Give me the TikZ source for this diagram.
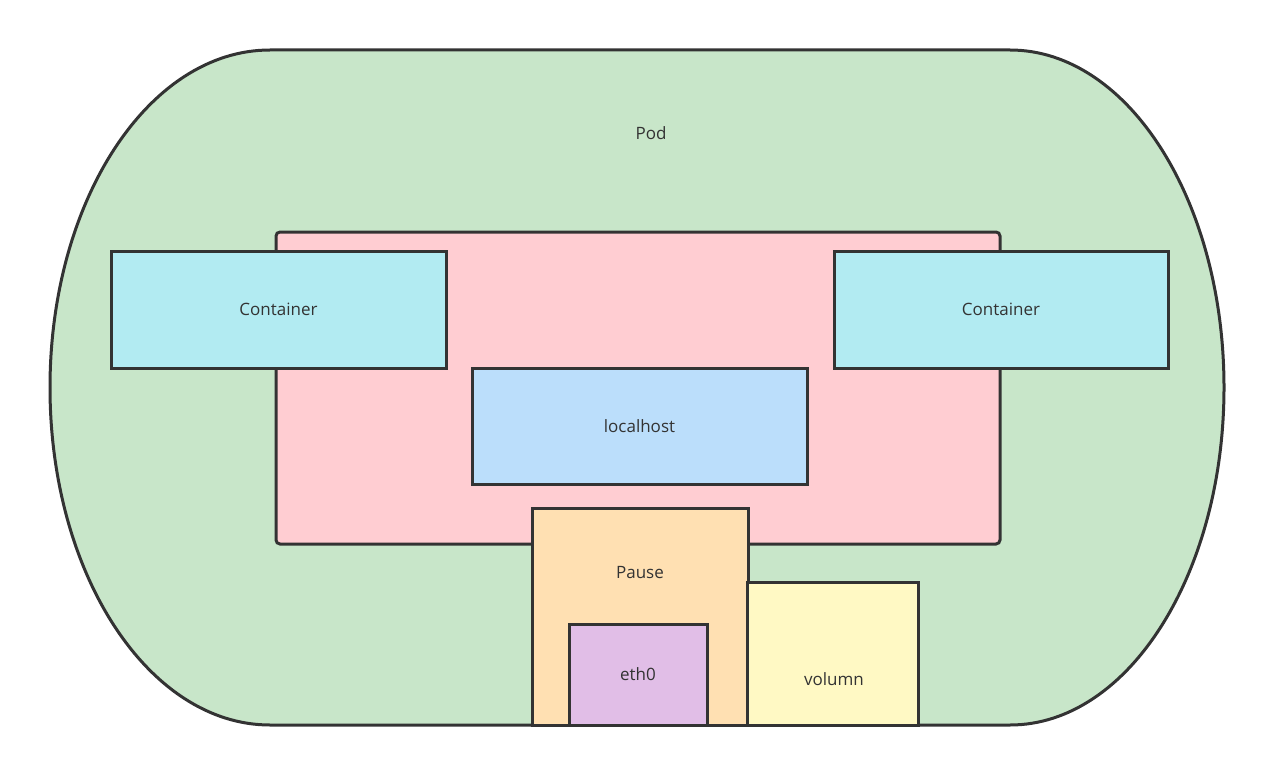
\documentclass[tikz,border=0pt]{standalone}
\usepackage{fontspec}
\setmainfont{Open Sans}
\usetikzlibrary{shapes.geometric}
\definecolor{podgreen}{HTML}{C8E6C9}
\definecolor{netpink}{HTML}{FFCDD2}
\definecolor{boxcyan}{HTML}{B2EBF2}
\definecolor{hostblue}{HTML}{BBDEFB}
\definecolor{pauseorange}{HTML}{FFE0B2}
\definecolor{ethpurple}{HTML}{E1BEE7}
\definecolor{volyellow}{HTML}{FFF9C4}
\definecolor{edgegray}{HTML}{333333}
\begin{document}
\begin{tikzpicture}[x=1pt,y=-1pt]
    \tikzstyle{box}=[draw=edgegray,line width=3pt,inner sep=0pt,text=edgegray,font=\fontsize{17}{20}\selectfont]
    \tikzstyle{lbl}=[text=edgegray,font=\fontsize{17}{20}\selectfont]

    \useasboundingbox (0,0) rectangle (1274,781);

    % pod outline
    \draw[fill=podgreen,draw=edgegray,line width=3pt]
        (270,50) -- (1010,50) arc[start angle=90,end angle=-90,x radius=214,y radius=-337.5]
        -- (270,725) arc[start angle=270,end angle=90,x radius=220,y radius=-337.5] -- cycle;
    \node[lbl] (pod) at (651,133) {Pod};

    \node[box,fill=netpink,rounded corners=4pt,minimum width=724pt,minimum height=312pt] (net) at (638,388) {};

    \node[box,fill=boxcyan,minimum width=335pt,minimum height=117pt] (c1) at (278.5,309.5) {Container};
    \node[box,fill=boxcyan,minimum width=334pt,minimum height=117pt] (c2) at (1001,309.5) {Container};
    \node[box,fill=hostblue,minimum width=335pt,minimum height=116pt] (host) at (639.5,426) {localhost};

    \node[box,fill=pauseorange,minimum width=216pt,minimum height=217pt] (pause) at (640,616.5) {};
    \node[lbl] (pauselbl) at (640,573) {Pause};
    \node[box,fill=ethpurple,minimum width=138pt,minimum height=101pt] (eth) at (638,674.5) {eth0};

    \node[box,fill=volyellow,shape=cylinder,shape border rotate=90,aspect=0.3,
          minimum width=171pt,minimum height=143pt] (vol) at (832.5,655) {};
    \node[lbl] (vollbl) at (834,679) {volumn};
\end{tikzpicture}
\end{document}
